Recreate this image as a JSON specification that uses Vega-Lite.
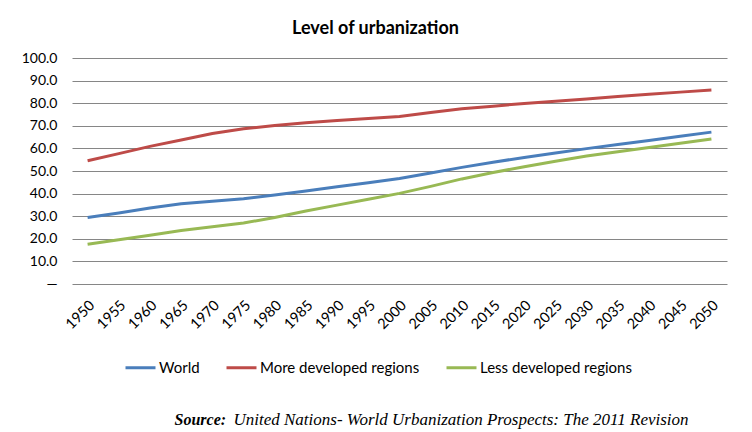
{
  "$schema": "https://vega.github.io/schema/vega-lite/v6.json",
  "autosize": "none",
  "width": 655,
  "height": 226,
  "padding": {"left": 72, "top": 58, "right": 25, "bottom": 148},
  "background": "white",
  "title": {
    "text": "Level of urbanization",
    "font": "Lato",
    "fontSize": 18,
    "fontWeight": "bold",
    "color": "black",
    "anchor": "middle",
    "frame": "group",
    "dx": -24,
    "offset": 13
  },
  "data": {
    "values": [
      {"year": "1950", "region": "World", "pct": 29.4},
      {"year": "1955", "region": "World", "pct": 31.4},
      {"year": "1960", "region": "World", "pct": 33.6},
      {"year": "1965", "region": "World", "pct": 35.5},
      {"year": "1970", "region": "World", "pct": 36.6},
      {"year": "1975", "region": "World", "pct": 37.7},
      {"year": "1980", "region": "World", "pct": 39.4},
      {"year": "1985", "region": "World", "pct": 41.2},
      {"year": "1990", "region": "World", "pct": 43.0},
      {"year": "1995", "region": "World", "pct": 44.8},
      {"year": "2000", "region": "World", "pct": 46.7},
      {"year": "2005", "region": "World", "pct": 49.1},
      {"year": "2010", "region": "World", "pct": 51.6},
      {"year": "2015", "region": "World", "pct": 53.9},
      {"year": "2020", "region": "World", "pct": 56.0},
      {"year": "2025", "region": "World", "pct": 58.0},
      {"year": "2030", "region": "World", "pct": 59.9},
      {"year": "2035", "region": "World", "pct": 61.7},
      {"year": "2040", "region": "World", "pct": 63.5},
      {"year": "2045", "region": "World", "pct": 65.4},
      {"year": "2050", "region": "World", "pct": 67.2},
      {"year": "1950", "region": "More developed regions", "pct": 54.5},
      {"year": "1955", "region": "More developed regions", "pct": 57.7},
      {"year": "1960", "region": "More developed regions", "pct": 60.9},
      {"year": "1965", "region": "More developed regions", "pct": 63.7},
      {"year": "1970", "region": "More developed regions", "pct": 66.6},
      {"year": "1975", "region": "More developed regions", "pct": 68.7},
      {"year": "1980", "region": "More developed regions", "pct": 70.1},
      {"year": "1985", "region": "More developed regions", "pct": 71.3},
      {"year": "1990", "region": "More developed regions", "pct": 72.3},
      {"year": "1995", "region": "More developed regions", "pct": 73.2},
      {"year": "2000", "region": "More developed regions", "pct": 74.1},
      {"year": "2005", "region": "More developed regions", "pct": 75.9},
      {"year": "2010", "region": "More developed regions", "pct": 77.5},
      {"year": "2015", "region": "More developed regions", "pct": 78.7},
      {"year": "2020", "region": "More developed regions", "pct": 79.9},
      {"year": "2025", "region": "More developed regions", "pct": 80.9},
      {"year": "2030", "region": "More developed regions", "pct": 81.9},
      {"year": "2035", "region": "More developed regions", "pct": 83.0},
      {"year": "2040", "region": "More developed regions", "pct": 84.0},
      {"year": "2045", "region": "More developed regions", "pct": 84.9},
      {"year": "2050", "region": "More developed regions", "pct": 85.8},
      {"year": "1950", "region": "Less developed regions", "pct": 17.6},
      {"year": "1955", "region": "Less developed regions", "pct": 19.6},
      {"year": "1960", "region": "Less developed regions", "pct": 21.6},
      {"year": "1965", "region": "Less developed regions", "pct": 23.7},
      {"year": "1970", "region": "Less developed regions", "pct": 25.3},
      {"year": "1975", "region": "Less developed regions", "pct": 27.0},
      {"year": "1980", "region": "Less developed regions", "pct": 29.4},
      {"year": "1985", "region": "Less developed regions", "pct": 32.3},
      {"year": "1990", "region": "Less developed regions", "pct": 34.9},
      {"year": "1995", "region": "Less developed regions", "pct": 37.5},
      {"year": "2000", "region": "Less developed regions", "pct": 40.1},
      {"year": "2005", "region": "Less developed regions", "pct": 43.2},
      {"year": "2010", "region": "Less developed regions", "pct": 46.5},
      {"year": "2015", "region": "Less developed regions", "pct": 49.3},
      {"year": "2020", "region": "Less developed regions", "pct": 51.9},
      {"year": "2025", "region": "Less developed regions", "pct": 54.3},
      {"year": "2030", "region": "Less developed regions", "pct": 56.6},
      {"year": "2035", "region": "Less developed regions", "pct": 58.5},
      {"year": "2040", "region": "Less developed regions", "pct": 60.4},
      {"year": "2045", "region": "Less developed regions", "pct": 62.3},
      {"year": "2050", "region": "Less developed regions", "pct": 64.2}
    ]
  },
  "mark": {"type": "line", "strokeWidth": 3},
  "encoding": {
    "x": {
      "field": "year",
      "type": "ordinal",
      "scale": {"type": "band", "paddingInner": 0, "paddingOuter": 0},
      "axis": {
        "title": "United Nations- World Urbanization Prospects: The 2011 Revision",
        "titleFont": "Liberation Serif",
        "titleFontStyle": "italic",
        "titleFontWeight": "normal",
        "titleFontSize": 17,
        "titleColor": "black",
        "titleAnchor": "start",
        "titleAlign": "left",
        "titleBaseline": "alphabetic",
        "titleX": 161,
        "titleY": 140,
        "labelAngle": -45,
        "labelFont": "Lato",
        "labelFontSize": 14.5,
        "labelColor": "black",
        "labelPadding": 14,
        "ticks": false,
        "domain": false,
        "grid": false
      }
    },
    "y": {
      "field": "pct",
      "type": "quantitative",
      "scale": {"domain": [0, 100]},
      "axis": {
        "title": "Source:",
        "titleFont": "Liberation Serif",
        "titleFontStyle": "italic",
        "titleFontWeight": "bold",
        "titleFontSize": 16,
        "titleColor": "black",
        "titleAngle": 0,
        "titleAlign": "left",
        "titleBaseline": "alphabetic",
        "titleX": 102,
        "titleY": 366,
        "values": [0, 10, 20, 30, 40, 50, 60, 70, 80, 90, 100],
        "labelExpr": "datum.value == 0 ? '\u2014' : format(datum.value, '.1f')",
        "labelFont": "Lato",
        "labelFontSize": 14,
        "labelColor": "black",
        "labelPadding": 15,
        "ticks": false,
        "domain": false,
        "grid": true,
        "gridColor": "#868686",
        "gridWidth": 1
      }
    },
    "color": {
      "field": "region",
      "type": "nominal",
      "scale": {
        "domain": ["World", "More developed regions", "Less developed regions"],
        "range": ["#4A7EBB", "#BE4B48", "#98B954"]
      },
      "legend": {
        "title": null,
        "orient": "none",
        "direction": "horizontal",
        "legendX": 52,
        "legendY": 293,
        "symbolType": "stroke",
        "symbolSize": 900,
        "symbolStrokeWidth": 3,
        "labelFont": "Lato",
        "labelFontSize": 15,
        "labelColor": "black",
        "labelOffset": 2,
        "columnPadding": 20
      }
    }
  },
  "config": {"view": {"stroke": null}}
}
